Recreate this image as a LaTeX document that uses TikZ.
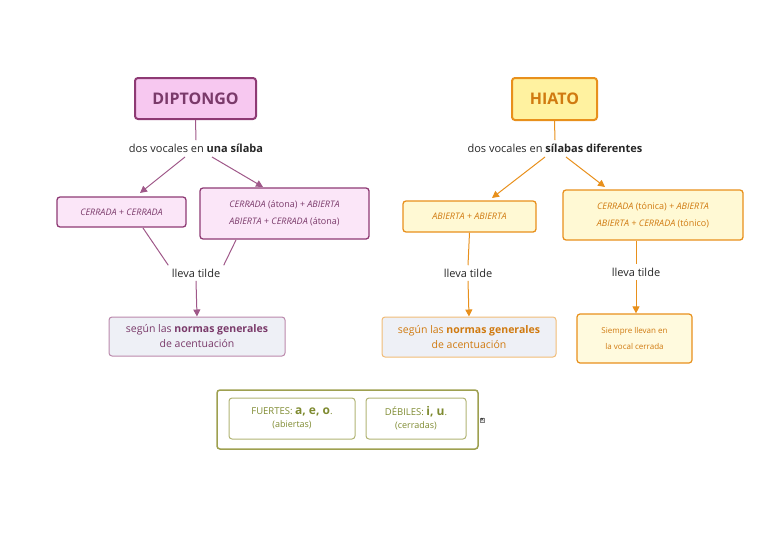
\documentclass[tikz,border=0pt]{standalone}
\usepackage{fontspec}
\setmainfont{Open Sans}
\usetikzlibrary{arrows.meta}
\definecolor{pk}{HTML}{F7C8F0}
\definecolor{pkd}{HTML}{8E3A74}
\definecolor{pkt}{HTML}{7A3A6A}
\definecolor{yl}{HTML}{FFF2A0}
\definecolor{orb}{HTML}{E8901C}
\definecolor{ort}{HTML}{D07A10}
\definecolor{gb}{HTML}{EEF0F6}
\definecolor{ol}{HTML}{9EA050}
\definecolor{olt}{HTML}{7E8A30}
\tikzset{
 bx/.style={draw, rounded corners=3pt, line width=1.3pt, inner sep=0pt, align=center},
 pbox/.style={bx, draw=pkd, fill=pk!45, text=pkt, font=\fontsize{9}{17}\selectfont\itshape},
 obox/.style={bx, draw=orb, fill=yl!45, text=ort, font=\fontsize{9}{17}\selectfont\itshape},
 lbl/.style={font=\fontsize{11}{13}\selectfont, text=black!85},
 pl/.style={draw=pkd!85, line width=1pt},
 ol/.style={draw=orb, line width=1pt},
 arr/.style={-{Triangle[length=7pt,width=7pt]}},
}
\begin{document}
\begin{tikzpicture}[x=1pt,y=-1pt]
\useasboundingbox (0,0) rectangle (768,543);
% DIPTONGO
\node[bx, draw=pkd, fill=pk, line width=2pt, minimum width=121, minimum height=41, text=pkt, font=\fontsize{16}{18}\selectfont\bfseries] (dip) at (195.5,98.5) {DIPTONGO};
\node[lbl] (dl) at (196,148) {dos vocales en \textbf{una sílaba}};
\node[pbox, minimum width=129, minimum height=30] (cc) at (121.5,212) {CERRADA + CERRADA};
\node[pbox, minimum width=169, minimum height=51] (ca) at (284.5,213.5) {CERRADA {\upshape\small(átona)} + ABIERTA\\ABIERTA + CERRADA {\upshape\small(átona)}};
\node[lbl] (dt) at (196,273) {lleva tilde};
\node[bx, draw=pkd!60, fill=gb, line width=1pt, minimum width=176, minimum height=39, text=pkt, font=\fontsize{10.5}{15}\selectfont] (dn) at (197,336.5) {según las \textbf{normas generales}\\de acentuación};
\draw[pl] (dip.south) -- (dl.north);
\draw[pl,arr] (185,157) -- (140,193);
\draw[pl,arr] (212,157) -- (263,187);
\draw[pl] (143,228) -- (dt.north west);
\draw[pl] (236,240) -- (dt.north east);
\draw[pl,arr] (dt.south) -- (dn.north);
% HIATO
\node[bx, draw=orb, fill=yl, line width=2pt, minimum width=85, minimum height=42, text=ort, font=\fontsize{16}{18}\selectfont\bfseries] (hi) at (554.5,99) {HIATO};
\node[lbl] (hl) at (555,148) {dos vocales en \textbf{sílabas diferentes}};
\node[obox, minimum width=133, minimum height=31] (aa) at (469.5,216.5) {ABIERTA + ABIERTA};
\node[obox, minimum width=180, minimum height=50] (ct) at (653,215) {CERRADA {\upshape\small(tónica)} + ABIERTA\\ABIERTA + CERRADA {\upshape\small(tónico)}};
\node[lbl] (ht1) at (468,273) {lleva tilde};
\node[lbl] (ht2) at (636,272) {lleva tilde};
\node[bx, draw=orb!60, fill=gb, line width=1pt, minimum width=174, minimum height=40, text=ort, font=\fontsize{10.5}{15}\selectfont] (hn) at (469,337) {según las \textbf{normas generales}\\de acentuación};
\node[bx, draw=orb, fill=yl!35, line width=1.2pt, minimum width=115, minimum height=49, text=ort, font=\fontsize{8}{16}\selectfont] (si) at (634.5,338.5) {Siempre llevan en\\la vocal cerrada};
\draw[ol] (hi.south) -- (hl.north);
\draw[ol,arr] (545,157) -- (492,198);
\draw[ol,arr] (566,157) -- (605,187);
\draw[ol] (aa.south) -- (ht1.north);
\draw[ol,arr] (ht1.south) -- (hn.north);
\draw[ol] (ct.south -| ht2) -- (ht2.north);
\draw[ol,arr] (ht2.south) -- (si.north -| ht2);
% bottom
\node[bx, draw=ol, line width=1.5pt, minimum width=261, minimum height=59] (fr) at (347.5,419.5) {};
\node[bx, draw=ol!80, line width=1pt, minimum width=126, minimum height=41, text=olt, font=\fontsize{9.5}{13}\selectfont] (fu) at (292,418.5) {FUERTES: \textbf{\large a, e, o}.\\{\small(abiertas)}};
\node[bx, draw=ol!80, line width=1pt, minimum width=100, minimum height=41, text=olt, font=\fontsize{9.5}{13}\selectfont] (de) at (416,418.5) {DÉBILES: \textbf{\large i, u}.\\{\small(cerradas)}};
\node[draw=black!50, fill=black!8, inner sep=0.5pt, font=\fontsize{7}{7}\selectfont] (ic) at (482,420) {«};
\end{tikzpicture}
\end{document}
